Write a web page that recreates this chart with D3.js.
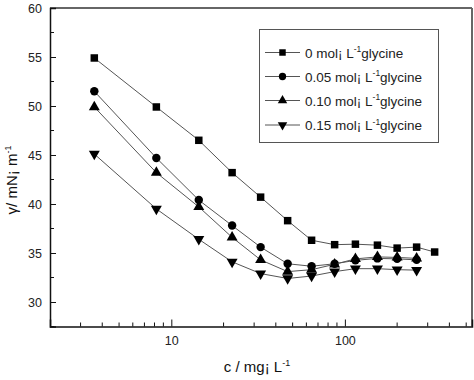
<!DOCTYPE html>
<html><head><meta charset="utf-8">
<script src="https://cdn.jsdelivr.net/npm/d3@7"></script>
<style>body{margin:0;background:#fff}svg{display:block}text{font-family:Arial,"Liberation Sans",sans-serif}</style>
</head><body><svg id="c" width="474" height="380"></svg>
<script>
const concentrations = [3.6, 8.2, 14.4, 22.4, 32.7, 46.8, 64.3, 87.3, 115, 154, 200, 259, 329];
const seriesNames = ["0 mol¡ L", "0.05 mol¡ L", "0.10 mol¡ L", "0.15 mol¡ L"];
const glycine0   = [54.9, 49.9, 46.5, 43.2, 40.7, 38.3, 36.3, 35.85, 35.9, 35.8, 35.5, 35.6, 35.1];
const glycine005 = [51.5, 44.7, 40.4, 37.8, 35.6, 33.9, 33.65, 33.9, 34.25, 34.45, 34.4, 34.3];
const glycine010 = [49.9, 43.2, 39.7, 36.6, 34.3, 33.1, 33.3, 33.85, 34.4, 34.6, 34.55, 34.45];
const glycine015 = [45.1, 39.5, 36.4, 34.1, 32.9, 32.4, 32.65, 33.1, 33.4, 33.4, 33.3, 33.25];
const symbols = ["square", "circle", "triangle", "triangleDown"];
const yTicks = [30, 35, 40, 45, 50, 55, 60];
const xTickLabels = [10, 100];

const svg = d3.select("#c");
const L = 50, R = 472, T = 8, B = 326.5;
const x = d3.scaleLog().domain([2, 540]).range([L, R]);
const y = d3.scaleLinear().domain([27.5, 60]).range([B, T]);

// frame top/right
svg.append("line").attr("x1", L).attr("x2", R).attr("y1", T).attr("y2", T).attr("stroke", "#666").attr("stroke-width", 2);
svg.append("line").attr("x1", R).attr("x2", R).attr("y1", T).attr("y2", B).attr("stroke", "#666").attr("stroke-width", 2);

// y axis
const yAxis = svg.append("g").attr("transform", `translate(${L},0)`)
  .call(d3.axisLeft(y).tickValues(yTicks).tickSize(-6).tickPadding(8));
yAxis.selectAll(".tick text").attr("font-size", 12.5).attr("fill", "#222");
yAxis.select(".domain").attr("stroke", "#111").attr("stroke-width", 1.5);
yAxis.selectAll(".tick line").attr("stroke", "#111");
const yMinor = d3.range(27.5, 60, 5);
svg.append("g").selectAll("line").data(yMinor).join("line")
  .attr("x1", L).attr("x2", L + 4).attr("y1", d => y(d)).attr("y2", d => y(d)).attr("stroke", "#111");

// x axis
const xMinor = [3,4,5,6,7,8,9,20,30,40,50,60,70,80,90,200,300,400,500];
const xAxis = svg.append("g").attr("transform", `translate(0,${B})`)
  .call(d3.axisBottom(x).tickValues(xTickLabels).tickFormat(d3.format("d")).tickSize(-7).tickPadding(10));
xAxis.selectAll(".tick text").attr("font-size", 12.5).attr("fill", "#222");
xAxis.select(".domain").attr("stroke", "#111").attr("stroke-width", 1.5);
xAxis.selectAll(".tick line").attr("stroke", "#111");
svg.append("g").selectAll("line").data(xMinor).join("line")
  .attr("x1", d => x(d)).attr("x2", d => x(d)).attr("y1", B).attr("y2", B - 4).attr("stroke", "#111");

// axis titles
const xt = svg.append("text").attr("x", 257).attr("y", 372).attr("text-anchor", "middle").attr("font-size", 15).attr("fill", "#111");
xt.append("tspan").text("c / mg¡  L");
xt.append("tspan").attr("dy", -6).attr("font-size", 9).text("-1");
const yt = svg.append("text").attr("transform", "translate(17,180) rotate(-90)").attr("text-anchor", "middle").attr("font-size", 15).attr("fill", "#111");
yt.append("tspan").text("γ/ mN¡  m");
yt.append("tspan").attr("dy", -6).attr("font-size", 9).text("-1");

// symbol generators
const symType = {square: d3.symbolSquare, circle: d3.symbolCircle, triangle: d3.symbolTriangle, triangleDown: d3.symbolTriangle};
const symSize = {square: 56, circle: 56, triangle: 52, triangleDown: 52};
function drawSym(g, type, cx, cy, scale) {
  g.append("path").attr("d", d3.symbol().type(symType[type]).size(symSize[type] * (scale || 1))())
    .attr("transform", `translate(${cx},${cy})` + (type === "triangleDown" ? " rotate(180)" : ""))
    .attr("fill", "#000");
}

const allSeries = [glycine0, glycine005, glycine010, glycine015];
const line = d3.line().x(d => x(d[0])).y(d => y(d[1]));
allSeries.forEach((vals, i) => {
  const pts = vals.map((v, j) => [concentrations[j], v]);
  svg.append("path").attr("d", line(pts)).attr("fill", "none").attr("stroke", "#555").attr("stroke-width", 1);
  const g = svg.append("g");
  pts.forEach(p => drawSym(g, symbols[i], x(p[0]), y(p[1])));
});

// legend
svg.append("rect").attr("x", 259.5).attr("y", 29.5).attr("width", 179).attr("height", 113)
  .attr("fill", "#fff").attr("stroke", "#555").attr("stroke-width", 1);
const legY = [52.5, 76.5, 100.5, 125];
seriesNames.forEach((name, i) => {
  const ly = legY[i];
  svg.append("line").attr("x1", 265).attr("x2", 300).attr("y1", ly).attr("y2", ly).attr("stroke", "#555");
  drawSym(svg, symbols[i], 282.5, ly, 0.75);
  const t = svg.append("text").attr("x", 305).attr("y", ly + 5).attr("font-size", 13.5).attr("fill", "#222");
  t.append("tspan").text(name);
  t.append("tspan").attr("dy", -5.5).attr("font-size", 8.5).text("-1");
  t.append("tspan").attr("dy", 5.5).text("glycine");
});
</script></body></html>
